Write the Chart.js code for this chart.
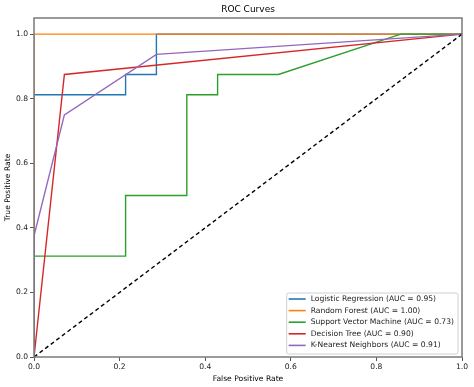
<!DOCTYPE html>
<html>
<head>
<meta charset="utf-8">
<title>ROC Curves</title>
<script src="https://cdn.jsdelivr.net/npm/chart.js@4"></script>
<style>
  body { margin: 0; background: #fff; }
  canvas { display: block; }
</style>
</head>
<body>
<canvas id="rocChart" width="474" height="387"></canvas>
<script>
// ROC data (fpr / tpr pairs)
const modelNames = ['Logistic Regression', 'Random Forest', 'Support Vector Machine', 'Decision Tree', 'K-Nearest Neighbors'];
const aucScores = [0.95, 1.00, 0.73, 0.90, 0.91];
const lineColors = ['#1f77b4', '#ff7f0e', '#2ca02c', '#d62728', '#9467bd'];

const lrFpr = [0, 0, 0.214, 0.214, 0.286, 0.286, 1];
const lrTpr = [0, 0.8125, 0.8125, 0.875, 0.875, 1, 1];
const rfFpr = [0, 0, 1];
const rfTpr = [0, 1, 1];
const svmFpr = [0, 0, 0.214, 0.214, 0.357, 0.357, 0.429, 0.429, 0.571, 0.857, 1];
const svmTpr = [0, 0.3125, 0.3125, 0.5, 0.5, 0.8125, 0.8125, 0.875, 0.875, 1, 1];
const dtFpr = [0, 0.071, 1];
const dtTpr = [0, 0.875, 1];
const knnFpr = [0, 0, 0.071, 0.286, 1];
const knnTpr = [0, 0.375, 0.75, 0.9375, 1];
const chanceLine = [0, 1];

const xTicks = [0, 0.2, 0.4, 0.6, 0.8, 1.0];
const yTicks = [0, 0.2, 0.4, 0.6, 0.8, 1.0];

const FONT = "'DejaVu Sans', sans-serif";
const curves = [[lrFpr, lrTpr], [rfFpr, rfTpr], [svmFpr, svmTpr], [dtFpr, dtTpr], [knnFpr, knnTpr]];
const zip = (xs, ys) => xs.map((x, i) => ({ x: x, y: ys[i] }));

const datasets = curves.map((c, i) => ({
    label: `${modelNames[i]} (AUC = ${aucScores[i].toFixed(2)})`,
    data: zip(c[0], c[1]),
    borderColor: lineColors[i],
    borderWidth: 1.4,
    pointRadius: 0,
    showLine: true,
    fill: false,
    order: curves.length - i
}));
datasets.push({
    label: '',
    data: zip(chanceLine, chanceLine),
    borderColor: '#000',
    borderWidth: 1.4,
    borderDash: [4, 3],
    pointRadius: 0,
    showLine: true,
    order: 0
});

// frame + legend drawn inside the plot, like matplotlib's lower right legend
const framePlugin = {
    id: 'frame',
    afterDatasetsDraw(chart) {
        const { ctx, chartArea: a } = chart;
        ctx.save();
        ctx.strokeStyle = '#7a7a7a';
        ctx.lineWidth = 1.5;
        ctx.strokeRect(a.left, a.top, a.right - a.left, a.bottom - a.top);

        ctx.font = `7.6px ${FONT}`;
        const items = chart.data.datasets.filter(d => d.label);
        const rowH = 11.6;
        const textW = Math.max(...items.map(d => ctx.measureText(d.label).width));
        const w = 24 + textW + 4;
        const h = rowH * items.length + 3;
        const x0 = a.right - 4 - w;
        const y0 = a.bottom - 3 - h;
        ctx.fillStyle = 'rgba(255,255,255,0.85)';
        ctx.strokeStyle = '#d0d0d0';
        ctx.lineWidth = 1;
        ctx.beginPath();
        ctx.roundRect(x0, y0, w, h, 2);
        ctx.fill();
        ctx.stroke();
        ctx.textBaseline = 'middle';
        ctx.textAlign = 'left';
        items.forEach((d, i) => {
            const cy = y0 + 6 + i * rowH;
            ctx.strokeStyle = d.borderColor;
            ctx.lineWidth = 1.6;
            ctx.beginPath();
            ctx.moveTo(x0 + 2, cy);
            ctx.lineTo(x0 + 19, cy);
            ctx.stroke();
            ctx.fillStyle = '#222';
            ctx.fillText(d.label, x0 + 24, cy);
        });
        ctx.restore();
    }
};

const ctx = document.getElementById('rocChart').getContext('2d');
new Chart(ctx, {
    type: 'scatter',
    data: { datasets: datasets },
    plugins: [framePlugin],
    options: {
        responsive: false,
        animation: false,
        layout: { padding: { left: 0, right: 12, top: 0, bottom: 0 } },
        plugins: {
            legend: { display: false },
            tooltip: { enabled: false },
            title: {
                display: true,
                text: 'ROC Curves',
                fullSize: false,
                color: '#000',
                font: { family: FONT, size: 9, weight: 'normal', lineHeight: 1 },
                padding: { top: 5, bottom: 4 }
            }
        },
        scales: {
            x: {
                type: 'linear',
                min: 0,
                max: 1,
                afterFit(scale) { scale.height = 30; },
                afterBuildTicks(scale) { scale.ticks = xTicks.map(v => ({ value: v })); },
                grid: { drawOnChartArea: false, drawTicks: true, tickLength: 4, color: '#555' },
                border: { display: false },
                ticks: {
                    color: '#222', padding: 1, maxRotation: 0,
                    font: { family: FONT, size: 7.6 },
                    callback: v => v.toFixed(1)
                },
                title: {
                    display: true, text: 'False Positive Rate', color: '#000',
                    font: { family: FONT, size: 7.6 }, padding: { top: 0, bottom: 3 }
                }
            },
            y: {
                type: 'linear',
                min: 0,
                max: 1.05,
                afterFit(scale) { scale.width = 34; },
                afterBuildTicks(scale) { scale.ticks = yTicks.map(v => ({ value: v })); },
                grid: { drawOnChartArea: false, drawTicks: true, tickLength: 4, color: '#555' },
                border: { display: false },
                ticks: {
                    color: '#222', padding: 2,
                    font: { family: FONT, size: 7.6 },
                    callback: v => v.toFixed(1)
                },
                title: {
                    display: true, text: 'True Positive Rate', color: '#000',
                    font: { family: FONT, size: 7.6 }, padding: { top: 3, bottom: 0 }
                }
            }
        }
    }
});
</script>
</body>
</html>
